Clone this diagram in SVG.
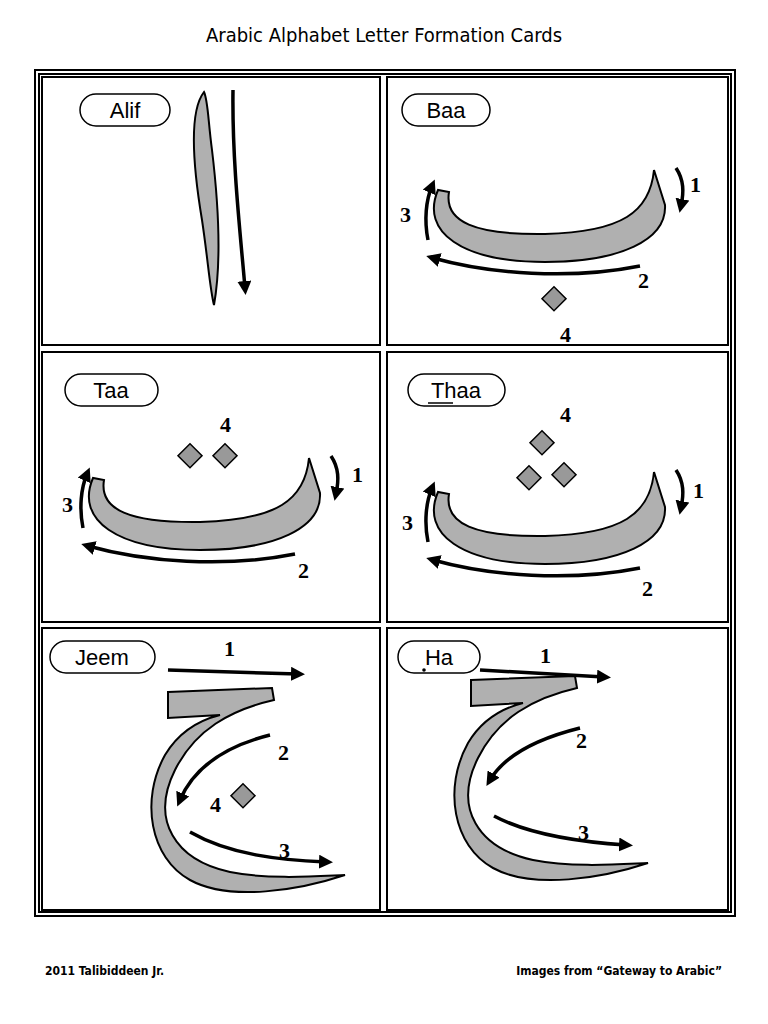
<svg xmlns="http://www.w3.org/2000/svg" width="768" height="1024" viewBox="0 0 768 1024">
<style>
.t{font-family:"DejaVu Sans Condensed","Liberation Sans",sans-serif;fill:#000}
.pill{fill:#fff;stroke:#000;stroke-width:1.5}
.lab{font-family:"Liberation Sans",sans-serif;font-size:22px;fill:#000}
.num{font-family:"Liberation Serif",serif;font-size:22px;font-weight:bold;fill:#000}
.let{fill:#b0b0b0;stroke:#000;stroke-width:2}
.arr{fill:none;stroke:#000;stroke-width:3.5;marker-end:url(#ah)}
.dia{fill:#999;stroke:#000;stroke-width:1.5}
.cell{fill:#fff;stroke:#000;stroke-width:2}
</style>
<defs>
<marker id="ah" viewBox="0 0 10 10" refX="5" refY="5" markerWidth="4" markerHeight="4" orient="auto"><path d="M0,0 L10,5 L0,10 Z" fill="#000"/></marker>
<g id="baaShape">
<path class="let" d="M438,190 C420,232 462,262 545,262 C620,262 667,240 665,205 L654,170 C650,212 622,232 545,234 C475,235 444,222 449,192 Z"/>
<path class="arr" d="M676,168 C684,180 684,192 681,206"/>
<path class="arr" d="M428,240 C424,220 426,200 432,186"/>
<path class="arr" d="M640,266 C570,280 490,274 433,258"/>
</g>
<g id="jeemShape">
<path class="let" d="M168,692 L272,688 L274,700 C230,710 195,730 175,770 C150,820 175,860 230,872 C270,880 320,876 345,875 C300,890 230,902 190,880 C150,858 140,800 165,755 C180,730 200,720 220,715 L168,718 Z"/>
</g>
</defs>
<rect width="768" height="1024" fill="#fff"/>
<text class="t" x="384" y="42" font-size="20" text-anchor="middle">Arabic Alphabet Letter Formation Cards</text>
<rect x="35" y="70" width="700" height="846" fill="none" stroke="#000" stroke-width="2"/>
<rect x="39" y="74" width="692" height="838" fill="none" stroke="#000" stroke-width="2"/>
<g id="alif">
<rect class="cell" x="42" y="77" width="338" height="268"/>
<path class="let" d="M204,92 C190,110 192,160 202,220 C208,260 210,290 214,305 C222,260 218,200 212,150 C208,120 208,100 204,92 Z"/>
<path class="arr" d="M233,90 C232,160 240,230 245,288"/>
<rect class="pill" x="80" y="94" width="90" height="32" rx="16"/>
<text class="lab" x="125" y="118" text-anchor="middle">Alif</text>
</g>
<g id="baa">
<rect class="cell" x="387" y="77" width="341" height="268"/>
<use href="#baaShape"/>
<rect class="dia" x="546" y="290" width="17" height="17" transform="rotate(45 554 298)"/>
<text class="num" x="690" y="192">1</text><text class="num" x="638" y="288">2</text><text class="num" x="400" y="222">3</text><text class="num" x="560" y="342">4</text>
<rect class="pill" x="402" y="94" width="88" height="32" rx="16"/>
<text class="lab" x="446" y="118" text-anchor="middle">Baa</text>
</g>
<g id="taa">
<rect class="cell" x="42" y="352" width="338" height="270"/>
<use href="#baaShape" transform="translate(-345,288)"/>
<rect class="dia" x="182" y="447" width="17" height="17" transform="rotate(45 190 455)"/>
<rect class="dia" x="217" y="447" width="17" height="17" transform="rotate(45 225 455)"/>
<text class="num" x="352" y="482">1</text><text class="num" x="298" y="578">2</text><text class="num" x="62" y="512">3</text><text class="num" x="220" y="432">4</text>
<rect class="pill" x="65" y="374" width="93" height="32" rx="16"/>
<text class="lab" x="111" y="398" text-anchor="middle">Taa</text>
</g>
<g id="thaa">
<rect class="cell" x="387" y="352" width="341" height="270"/>
<use href="#baaShape" transform="translate(0,302)"/>
<rect class="dia" x="534" y="434" width="17" height="17" transform="rotate(45 542 442)"/>
<rect class="dia" x="521" y="469" width="17" height="17" transform="rotate(45 529 477)"/>
<rect class="dia" x="556" y="466" width="17" height="17" transform="rotate(45 564 474)"/>
<text class="num" x="693" y="498">1</text><text class="num" x="642" y="596">2</text><text class="num" x="402" y="530">3</text><text class="num" x="560" y="422">4</text>
<rect class="pill" x="408" y="374" width="97" height="32" rx="16"/>
<text class="lab" x="456" y="398" text-anchor="middle">Thaa</text>
<line x1="428" y1="403" x2="453" y2="403" stroke="#000" stroke-width="1.5"/>
</g>
<g id="jeem">
<rect class="cell" x="42" y="628" width="338" height="282"/>
<use href="#jeemShape"/>
<path class="arr" d="M168,670 L298,674"/>
<path class="arr" d="M270,735 C230,745 195,765 180,800"/>
<path class="arr" d="M190,832 C230,855 280,860 326,862"/>
<rect class="dia" x="235" y="787" width="17" height="17" transform="rotate(45 243 795)"/>
<text class="num" x="224" y="656">1</text><text class="num" x="278" y="760">2</text><text class="num" x="279" y="858">3</text><text class="num" x="210" y="812">4</text>
<rect class="pill" x="50" y="641" width="105" height="32" rx="16"/>
<text class="lab" x="102" y="665" text-anchor="middle">Jeem</text>
</g>
<g id="ha">
<rect class="cell" x="387" y="628" width="341" height="282"/>
<use href="#jeemShape" transform="translate(303,-12)"/>
<path class="arr" d="M480,670 L604,677"/>
<path class="arr" d="M580,728 C540,738 505,755 490,780"/>
<path class="arr" d="M494,816 C530,835 580,842 626,845"/>
<text class="num" x="540" y="663">1</text><text class="num" x="576" y="748">2</text><text class="num" x="578" y="840">3</text>
<rect class="pill" x="398" y="641" width="82" height="32" rx="16"/>
<text class="lab" x="439" y="665" text-anchor="middle">Ha</text>
<circle cx="424" cy="670" r="1.8" fill="#000"/>
</g>
<text class="t" x="45" y="975" font-size="12" font-weight="bold">2011 Talibiddeen Jr.</text>
<text class="t" x="722" y="975" font-size="12" font-weight="bold" text-anchor="end">Images from “Gateway to Arabic”</text>
</svg>
